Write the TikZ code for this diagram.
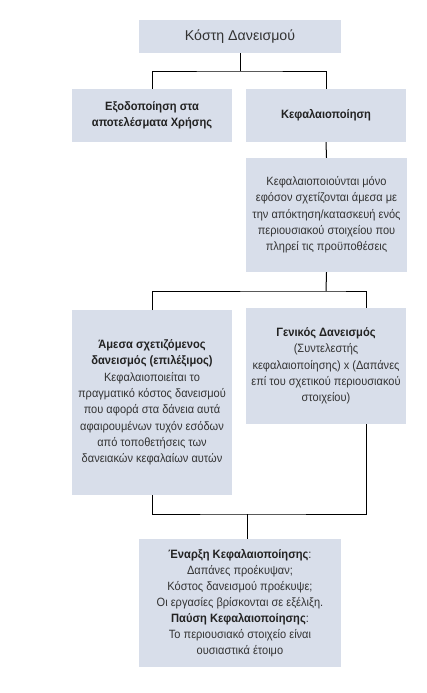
\documentclass[tikz,border=0pt]{standalone}
\usepackage{fontspec}
\setmainfont[FakeStretch=0.92]{Liberation Sans}
\newfontfamily\titlefont{Liberation Sans}
\definecolor{boxfill}{HTML}{D8DEEA}
\definecolor{txt}{HTML}{333333}
\definecolor{txtb}{HTML}{222222}
\tikzset{
  box/.style={fill=boxfill, draw=none, align=center, text=txt, inner sep=0pt,
    font=\fontsize{12}{16.3}\selectfont},
  conn/.style={draw=black, line width=1pt},
  hd/.style={font=\fontsize{12.1}{16.3}\selectfont\bfseries, text=txtb},
}
\newcommand\hdt[1]{{\color{txtb}\fontsize{12.1}{16.3}\selectfont\bfseries #1}}
\begin{document}
\begin{tikzpicture}[x=1pt,y=-1pt]
\useasboundingbox (0,0) rectangle (426,693);
\node[box, minimum width=202pt, minimum height=33pt, font=\titlefont\fontsize{14.2}{17}\selectfont] (b1) at (240,36.5) {Κόστη Δανεισμού};
\node[box, hd, minimum width=160pt, minimum height=53pt] (b2) at (152,115.5) {Εξοδοποίηση στα\\αποτελέσματα Χρήσης};
\node[box, hd, minimum width=160pt, minimum height=53pt] (b3) at (326,115.5) {Κεφαλαιοποίηση};
\node[box, minimum width=161pt, minimum height=114pt] (b4) at (326.5,215) {Κεφαλαιοποιούνται μόνο\\εφόσον σχετίζονται άμεσα με\\την απόκτηση/κατασκευή ενός\\περιουσιακού στοιχείου που\\πληρεί τις προϋποθέσεις};
\node[box, minimum width=160pt, minimum height=185pt] (b5) at (152,402.5) {\hdt{Άμεσα σχετιζόμενος}\\\hdt{δανεισμός (επιλέξιμος)}\\Κεφαλαιοποιείται το\\πραγματικό κόστος δανεισμού\\που αφορά στα δάνεια αυτά\\αφαιρουμένων τυχόν εσόδων\\από τοποθετήσεις των\\δανειακών κεφαλαίων αυτών};
\node[box, minimum width=160pt, minimum height=116pt] (b6) at (326,366) {\hdt{Γενικός Δανεισμός}\\(Συντελεστής\\κεφαλαιοποίησης) x (Δαπάνες\\επί του σχετικού περιουσιακού\\στοιχείου)};
\node[box, minimum width=202pt, minimum height=128pt, font=\fontsize{12}{16}\selectfont] (b7) at (240,603) {\hdt{Έναρξη Κεφαλαιοποίησης}:\\Δαπάνες προέκυψαν;\\Κόστος δανεισμού προέκυψε;\\Οι εργασίες βρίσκονται σε εξέλιξη.\\\hdt{Παύση Κεφαλαιοποίησης}:\\Το περιουσιακό στοιχείο είναι\\ουσιαστικά έτοιμο};
% connectors
\coordinate (j1) at (240,71);
\coordinate (j2) at (326,291);
\coordinate (j3) at (247,514);
\coordinate (t5) at (152,310);
\coordinate (t6) at (366,308);
\coordinate (s5) at (152,495);
\coordinate (s6) at (366,424);
\coordinate (t7) at (247,539);
\draw[conn] (b1.south) -- (j1);
\draw[conn] (b2.north) |- (j1) -| (b3.north);
\draw[conn] (b3.south) -- (b4.north);
\draw[conn] (b4.south) -- (j2);
\draw[conn] (t5) |- (j2) -| (t6);
\draw[conn] (s5) |- (j3) -| (s6);
\draw[conn] (j3) -- (t7);
\end{tikzpicture}
\end{document}
